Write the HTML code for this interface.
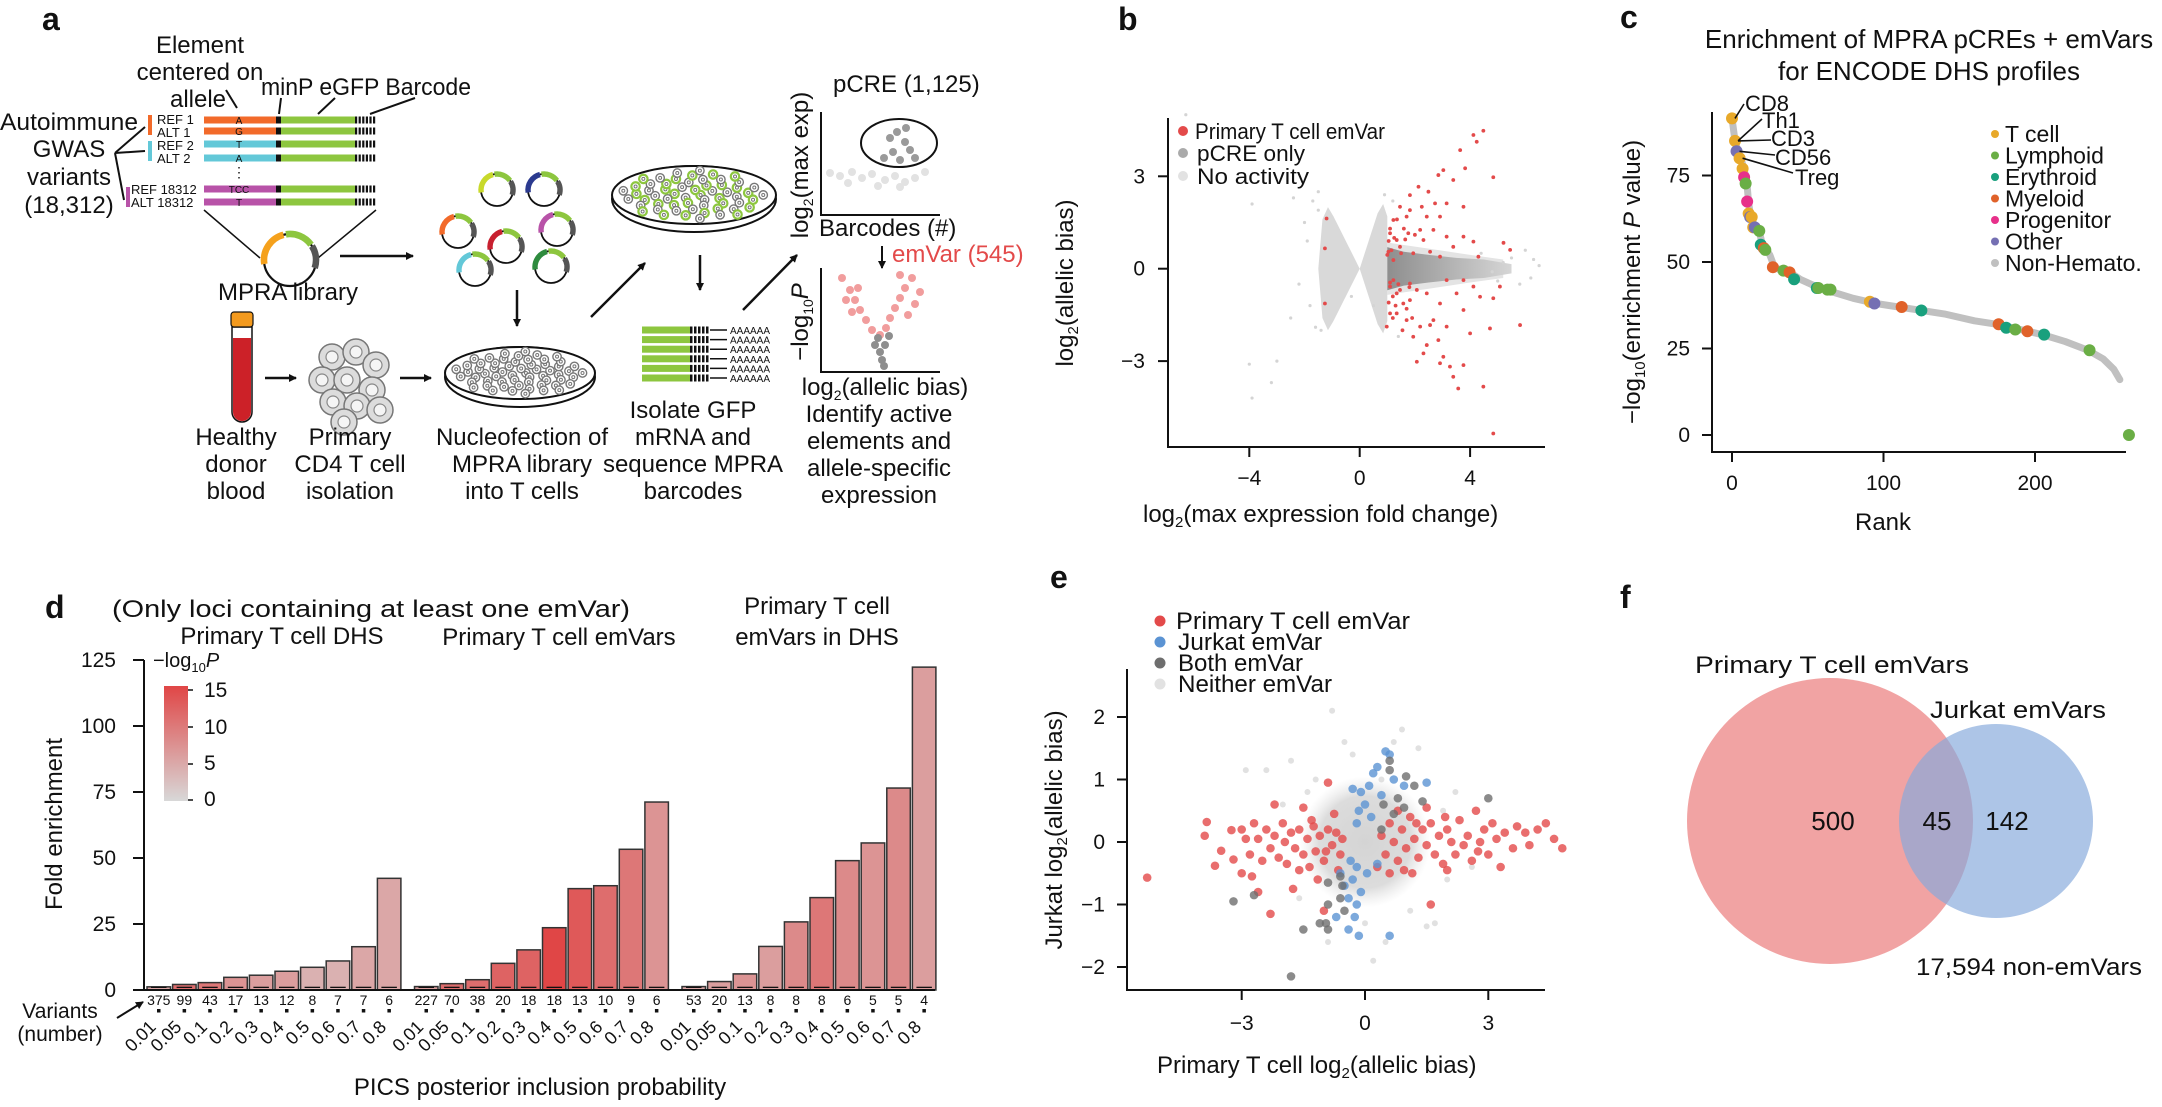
<!DOCTYPE html>
<html><head><meta charset="utf-8"><title>MPRA figure</title>
<style>
html,body{margin:0;padding:0;background:#fff;}
svg{display:block;font-family:"Liberation Sans",sans-serif;}
text{fill:#111;}
.pl{font-weight:bold;font-size:32px;}
.lab{font-size:24px;}
.tick{font-size:21px;}
.sm{font-size:13px;}
</style></head>
<body>
<svg id="fig" xmlns="http://www.w3.org/2000/svg" width="2162" height="1107" viewBox="0 0 2162 1107">
<defs>
<linearGradient id="cbar" x1="0" y1="1" x2="0" y2="0"><stop offset="0" stop-color="#d8d8d8"/><stop offset="1" stop-color="#e04646"/></linearGradient>
<linearGradient id="pcre" x1="0" y1="0" x2="1" y2="0"><stop offset="0" stop-color="#8e8e8e"/><stop offset="1" stop-color="#d6d6d6"/></linearGradient>
<radialGradient id="cloud"><stop offset="0" stop-color="#d4d4d4"/><stop offset="0.7" stop-color="#dcdcdc"/><stop offset="1" stop-color="#e8e8e8" stop-opacity="0"/></radialGradient>
<marker id="ah" markerWidth="8" markerHeight="8" refX="7" refY="4" orient="auto" markerUnits="userSpaceOnUse"><path d="M0,0 L8,4 L0,8 z" fill="#111"/></marker>
</defs>

<!-- ================= PANEL A ================= -->
<g id="panel-a">
<text class="pl" x="42" y="30">a</text>
<g class="lab" text-anchor="middle">
<text x="200" y="53">Element</text><text x="200" y="80">centered on</text><text x="198" y="107">allele</text>
</g>
<text class="lab" x="261" y="95" textLength="210" lengthAdjust="spacingAndGlyphs">minP eGFP Barcode</text>
<g stroke="#111" stroke-width="2" fill="none">
<line x1="226" y1="90" x2="237" y2="108"/><line x1="281" y1="98" x2="279" y2="114"/><line x1="335" y1="98" x2="318" y2="114"/><line x1="415" y1="98" x2="370" y2="114"/>
</g>
<g class="lab" text-anchor="middle">
<text x="69" y="130" textLength="138" lengthAdjust="spacingAndGlyphs">Autoimmune</text><text x="69" y="157">GWAS</text><text x="69" y="185">variants</text><text x="69" y="213">(18,312)</text>
</g>
<g stroke="#111" stroke-width="2" fill="none">
<line x1="115" y1="153" x2="145" y2="127"/><line x1="115" y1="153" x2="145" y2="151"/><line x1="115" y1="153" x2="124" y2="200"/>
</g>
<rect x="148" y="115" width="4" height="20" fill="#f26a2a"/>
<rect x="148" y="141" width="4" height="20" fill="#63c8d8"/>
<rect x="126" y="187" width="4" height="20" fill="#b853a8"/>
<g class="sm">
<text x="157" y="124">REF 1</text><text x="157" y="137">ALT 1</text><text x="157" y="150">REF 2</text><text x="157" y="163">ALT 2</text>
<text x="131" y="194">REF 18312</text><text x="131" y="207">ALT 18312</text>
</g>
<g id="constructs"></g>
<text x="239" y="177" font-size="14" text-anchor="middle">⋮</text>
<g stroke="#111" stroke-width="1.5"><line x1="204" y1="210" x2="260" y2="258"/><line x1="376" y1="210" x2="318" y2="258"/></g>
<g id="bigplasmid"></g>
<text class="lab" x="288" y="300" text-anchor="middle">MPRA library</text>
<line x1="340" y1="256" x2="413" y2="256" stroke="#111" stroke-width="2.5" marker-end="url(#ah)"/>
<g id="smallplasmids"></g>
<line x1="517" y1="290" x2="517" y2="326" stroke="#111" stroke-width="2.5" marker-end="url(#ah)"/>
<g>
<path d="M232,327 L232,412 A10,10 0 0 0 252,412 L252,327 Z" fill="#fff" stroke="#111" stroke-width="1.5"/>
<path d="M233,338 L233,412 A9,9 0 0 0 251,412 L251,338 Z" fill="#cc2128"/>
<rect x="231" y="312" width="22" height="15" rx="3" fill="#f39a1e" stroke="#111" stroke-width="1.2"/>
</g>
<line x1="265" y1="378" x2="296" y2="378" stroke="#111" stroke-width="2.5" marker-end="url(#ah)"/>
<g id="cellcluster"></g>
<line x1="400" y1="378" x2="431" y2="378" stroke="#111" stroke-width="2.5" marker-end="url(#ah)"/>
<g id="dish1"></g>
<line x1="591" y1="317" x2="645" y2="263" stroke="#111" stroke-width="2.5" marker-end="url(#ah)"/>
<g id="dish2"></g>
<line x1="700" y1="255" x2="700" y2="290" stroke="#111" stroke-width="2.5" marker-end="url(#ah)"/>
<g id="mrna"></g>
<line x1="743" y1="310" x2="797" y2="255" stroke="#111" stroke-width="2.5" marker-end="url(#ah)"/>
<g class="lab" text-anchor="middle">
<text x="236" y="445">Healthy</text><text x="236" y="472">donor</text><text x="236" y="499">blood</text>
<text x="350" y="445">Primary</text><text x="350" y="472">CD4 T cell</text><text x="350" y="499">isolation</text>
<text x="522" y="445">Nucleofection of</text><text x="522" y="472">MPRA library</text><text x="522" y="499">into T cells</text>
<text x="693" y="418">Isolate GFP</text><text x="693" y="445">mRNA and</text><text x="693" y="472">sequence MPRA</text><text x="693" y="499">barcodes</text>
<text x="879" y="422">Identify active</text><text x="879" y="449">elements and</text><text x="879" y="476">allele-specific</text><text x="879" y="503">expression</text>
</g>
<g id="insets">
<text class="lab" x="833" y="92">pCRE (1,125)</text>
<path d="M821,112 L821,215 L940,215" fill="none" stroke="#111" stroke-width="2"/>
<path d="M821,268 L821,372 L940,372" fill="none" stroke="#111" stroke-width="2"/>
<text class="lab" transform="translate(808,165) rotate(-90)" text-anchor="middle">log<tspan font-size="14" dy="5">2</tspan><tspan dy="-5">(max exp)</tspan></text>
<text class="lab" x="819" y="236">Barcodes (#)</text>
<line x1="882" y1="246" x2="882" y2="268" stroke="#111" stroke-width="2" marker-end="url(#ah)"/>
<text class="lab" x="892" y="262" style="fill:#e34a4a">emVar (545)</text>
<text class="lab" transform="translate(808,322) rotate(-90)" text-anchor="middle">−log<tspan font-size="14" dy="5">10</tspan><tspan dy="-5" font-style="italic">P</tspan></text>
<text class="lab" x="885" y="395" text-anchor="middle">log<tspan font-size="14" dy="5">2</tspan><tspan dy="-5">(allelic bias)</tspan></text>
</g>
</g>

<!-- ================= PANEL B ================= -->
<g id="panel-b">
<text class="pl" x="1118" y="30">b</text>
<g id="b-marks"></g>
<path d="M1168,118 L1168,447 L1545,447" fill="none" stroke="#111" stroke-width="2"/>
<g id="b-ticks"></g>
<text class="lab" transform="translate(1073,283) rotate(-90)" text-anchor="middle">log<tspan font-size="15" dy="5">2</tspan><tspan dy="-5">(allelic bias)</tspan></text>
<text class="lab" x="1143" y="522">log<tspan font-size="15" dy="5">2</tspan><tspan dy="-5">(max expression fold change)</tspan></text>
<g>
<circle cx="1183" cy="131" r="5" fill="#e34a4a"/><text x="1195" y="139" font-size="22" textLength="190" lengthAdjust="spacingAndGlyphs">Primary T cell emVar</text>
<circle cx="1183" cy="153" r="5" fill="#aaaaaa"/><text x="1197" y="161" font-size="22" textLength="108" lengthAdjust="spacingAndGlyphs">pCRE only</text>
<circle cx="1183" cy="176" r="5" fill="#e2e2e2"/><text x="1197" y="184" font-size="22" textLength="112" lengthAdjust="spacingAndGlyphs">No activity</text>
</g>
</g>

<!-- ================= PANEL C ================= -->
<g id="panel-c">
<text class="pl" x="1620" y="28">c</text>
<text x="1929" y="48" text-anchor="middle" font-size="26">Enrichment of MPRA pCREs + emVars</text>
<text x="1929" y="80" text-anchor="middle" font-size="26">for ENCODE DHS profiles</text>
<g id="c-marks"></g>
<path d="M1712,112 L1712,452 L2126,452" fill="none" stroke="#111" stroke-width="2"/>
<g id="c-ticks"></g>
<text class="lab" transform="translate(1640,282) rotate(-90)" text-anchor="middle">−log<tspan font-size="15" dy="5">10</tspan><tspan dy="-5">(enrichment </tspan><tspan font-style="italic">P</tspan><tspan> value)</tspan></text>
<text class="lab" x="1883" y="530" text-anchor="middle">Rank</text>
<g id="c-legend"></g>
</g>

<!-- ================= PANEL D ================= -->
<g id="panel-d">
<text class="pl" x="45" y="618">d</text>
<text class="lab" x="112" y="617" textLength="518" lengthAdjust="spacingAndGlyphs">(Only loci containing at least one emVar)</text>
<text class="lab" x="282" y="644" text-anchor="middle">Primary T cell DHS</text>
<text class="lab" x="559" y="645" text-anchor="middle">Primary T cell emVars</text>
<text class="lab" x="817" y="614" text-anchor="middle">Primary T cell</text>
<text class="lab" x="817" y="645" text-anchor="middle">emVars in DHS</text>
<g id="d-marks"></g>
<path d="M144,660 L144,990 L935,990" fill="none" stroke="#111" stroke-width="2"/>
<g id="d-ticks"></g>
<text class="lab" transform="translate(62,824) rotate(-90)" text-anchor="middle">Fold enrichment</text>
<text class="lab" x="540" y="1095" text-anchor="middle">PICS posterior inclusion probability</text>
<text x="60" y="1018" text-anchor="middle" font-size="21">Variants</text>
<text x="60" y="1041" text-anchor="middle" font-size="21">(number)</text>
<line x1="117" y1="1018" x2="143" y2="1002" stroke="#111" stroke-width="2" marker-end="url(#ah)"/>
<g>
<text x="153" y="667" font-size="20">−log<tspan font-size="13" dy="5">10</tspan><tspan dy="-5" font-style="italic">P</tspan></text>
<rect x="164" y="686" width="24" height="115" fill="url(#cbar)"/>
<g stroke="#111" stroke-width="1.5"><line x1="188" y1="690" x2="193" y2="690"/><line x1="188" y1="727" x2="193" y2="727"/><line x1="188" y1="764" x2="193" y2="764"/><line x1="188" y1="800" x2="193" y2="800"/></g>
<g font-size="21"><text x="204" y="697">15</text><text x="204" y="734">10</text><text x="204" y="770">5</text><text x="204" y="806">0</text></g>
</g>
</g>

<!-- ================= PANEL E ================= -->
<g id="panel-e">
<text class="pl" x="1050" y="588">e</text>
<g id="e-marks"></g>
<path d="M1127,669 L1127,990 L1545,990" fill="none" stroke="#111" stroke-width="2"/>
<g id="e-ticks"></g>
<text class="lab" transform="translate(1062,830) rotate(-90)" text-anchor="middle">Jurkat log<tspan font-size="15" dy="5">2</tspan><tspan dy="-5">(allelic bias)</tspan></text>
<text class="lab" x="1157" y="1073">Primary T cell log<tspan font-size="15" dy="5">2</tspan><tspan dy="-5">(allelic bias)</tspan></text>
<g>
<circle cx="1160" cy="621" r="5.5" fill="#e34a4a"/><text class="lab" x="1176" y="629" textLength="234" lengthAdjust="spacingAndGlyphs">Primary T cell emVar</text>
<circle cx="1160" cy="642" r="5.5" fill="#5b93d3"/><text class="lab" x="1178" y="650" textLength="144" lengthAdjust="spacingAndGlyphs">Jurkat emVar</text>
<circle cx="1160" cy="663" r="5.5" fill="#6e6e6e"/><text class="lab" x="1178" y="671" textLength="125" lengthAdjust="spacingAndGlyphs">Both emVar</text>
<circle cx="1160" cy="684" r="5.5" fill="#e2e2e2"/><text class="lab" x="1178" y="692" textLength="154" lengthAdjust="spacingAndGlyphs">Neither emVar</text>
</g>
</g>

<!-- ================= PANEL F ================= -->
<g id="panel-f">
<text class="pl" x="1620" y="608">f</text>
<g id="f-marks"></g>
<text class="lab" x="1695" y="673" textLength="274" lengthAdjust="spacingAndGlyphs">Primary T cell emVars</text>
<text class="lab" x="1930" y="718" textLength="176" lengthAdjust="spacingAndGlyphs">Jurkat emVars</text>
<text class="lab" x="1916" y="975" textLength="226" lengthAdjust="spacingAndGlyphs">17,594 non-emVars</text>
</g>
</svg>

<script>
// ---------------- DATA ----------------
// Panel d
const dCategories = ['0.01','0.05','0.1','0.2','0.3','0.4','0.5','0.6','0.7','0.8'];
const dGroupNames = ['Primary T cell DHS','Primary T cell emVars','Primary T cell emVars in DHS'];
const dFoldDHS = [1.2,2.1,2.8,4.8,5.6,7.1,8.6,11,16.4,42.3];
const dFoldEmVars = [1.3,2.4,3.9,10.1,15.2,23.6,38.4,39.5,53.3,71.2];
const dFoldEmVarsDHS = [1.3,3.2,6.1,16.5,25.8,35,49,55.7,76.5,122.3];
const dLogPDHS = [5,11,10,7,6,6,4,4,5,5];
const dLogPEmVars = [6,11,11,12,12,15,13,11,10,7];
const dLogPEmVarsDHS = [5,6,7,6,8,10,8,7,8,6];
const dCountsDHS = [375,99,43,17,13,12,8,7,7,6];
const dCountsEmVars = [227,70,38,20,18,18,13,10,9,6];
const dCountsEmVarsDHS = [53,20,13,8,8,8,6,5,5,4];
const dYTicks = [0,25,50,75,100,125];

// Panel c
const cCurveRank = [0,2,4,6,8,9,10,11,12,13,15,18,20,22,25,28,35,40,45,55,65,80,95,110,125,140,160,175,190,205,220,235,245,252,256];
const cCurveValue = [91.5,85,82,80,76.5,75,72,67,64,63,60,59,55,54,52,48.5,47,46.5,45,43,41.5,39.5,38,37,36,35,33,32,30.5,29,27,24.5,22,19,16];
const cDotRank = [0,2,3,5,7,8,9,10,11,12,13,14,15,18,19,21,22,27,34,38,41,56,57,63,65,91,94,112,125,176,181,187,195,206,236,262];
const cDotValue = [91.5,85,82,80,77,74.5,72.7,67.5,64,63,63,60,60,59,55,54,53.5,48.5,47.5,47,45,42.5,42.5,42,42,38.5,38,37,36,32,31,30.5,30,29,24.5,0];
const cDotType = ['T','T','O','T','T','P','L','P','T','O','T','T','O','L','E','M','L','M','L','M','E','E','L','L','L','T','O','M','E','M','E','L','M','E','L','L'];
const cLegendNames = ['T cell','Lymphoid','Erythroid','Myeloid','Progenitor','Other','Non-Hemato.'];
const cYTicks = [0,25,50,75];
const cXTicks = [0,100,200];

// Panel b
const bRedX = [4.12,4.24,4.48,3.64,3.82,4.84,3.03,2.85,3.39,2.13,2.49,2.73,3.76,1.82,1.46,1.22,1.70,2.25,2.91,3.15,3.76,5.21,5.45,1.10,1.34,1.94,2.55,2.91,4.12,1.22,1.04,1.46,1.76,2.19,2.31,2.67,2.43,1.82,3.15,3.39,4.3,1.10,1.46,1.82,2.43,2.91,3.51,4.12,5.08,1.10,1.70,2.19,2.55,3.15,3.76,4.84,5.81,4.72,1.94,2.43,2.85,2.31,2.07,2.91,3.27,3.76,3.03,3.39,3.57,4.48,4.84,-1.26,-1.2,-1.26,0.98,1.34,1.58,1.82,2.07,3.15,3.76,4.36,2.67,4.0,1.22,1.34,1.05,1.1,1.15,1.2,1.05,1.3,1.25,1.4,1.5,1.6,1.1,1.0,1.35,1.2,1.55,1.7,1.9,1.65,1.8,2.0];
const bRedY = [4.34,4.12,4.48,3.85,3.26,2.97,3.2,3.04,2.88,2.66,2.5,2.12,2.01,2.39,2.01,1.58,1.69,2.01,1.69,1.04,1.04,0.84,0.61,1.15,0.93,0.5,0.55,0.39,0.88,0.28,0.55,0.71,1.15,1.26,0.93,1.26,1.69,1.9,2.12,0.71,0.39,-0.58,-0.69,-1.02,-0.8,-1.13,-0.8,-0.58,-0.58,-1.45,-1.67,-1.88,-1.83,-1.88,-1.34,-0.96,-1.83,-1.94,-2.21,-2.48,-2.32,-2.75,-3.02,-3.07,-3.18,-3.13,-2.86,-3.51,-3.89,-3.83,-5.35,-1.13,1.63,0.66,-1.88,-1.45,-1.13,-0.48,-0.69,-0.37,-0.37,-0.91,-1.67,-2.1,-0.37,-0.8,0.9,1.3,0.6,-0.9,-1.1,-1.2,1.0,-0.5,0.5,1.3,-0.45,0.45,1.6,-1.6,-2.0,-1.3,-1.6,0.95,-0.6,1.1];
const bGreyX = [-6.3,-3.9,-2.4,-3.0,-4.0,-3.2,-3.9,-1.8,-2.5,-2.0,-1.6,-1.9,-2.2,-1.5,-1.7,4.8,5.5,6.2,6.5,-1.4,-1.5,1.2,1.4,0.9,-0.3,0.5,6.0,5.0,5.8,6.3,4.4,5.2];
const bGreyY = [5.0,2.1,2.3,-3.0,-3.1,-3.7,-4.2,-1.2,-1.6,1.5,-1.9,0.9,-0.5,2.5,2.2,-0.1,0.35,-0.3,0.1,-2.0,1.9,2.2,-2.2,2.4,-0.9,-1.2,0.6,-0.4,-0.5,0.3,0.5,0.2];
const bNoActLeftX = [-1.35,-1.15,-0.95,0,-0.95,-1.15,-1.35,-1.5];
const bNoActLeftY = [1.6,2.0,1.7,0,-1.7,-2.0,-1.6,0];
const bNoActRightX = [0,0.65,0.85,1.0,1.0,0.85,0.65];
const bNoActRightY = [0,1.8,2.1,1.7,-1.7,-2.1,-1.8];
const bPcreX = [1,1.6,2.5,3.5,4.5,5.5,5.5,4.5,3.5,2.5,1.6,1];
const bPcreY = [0.7,0.55,0.45,0.35,0.3,0.15,-0.15,-0.3,-0.35,-0.45,-0.55,-0.7];
const bHaloX = [1,2.5,4,5.2,5.2,4,2.5,1];
const bHaloY = [0.85,0.65,0.45,0.3,-0.3,-0.45,-0.65,-0.85];
const bYTicks = [-3,0,3];
const bXTicks = [-4,0,4];

// Panel e
const eRedX = [-5.3,-3.85,-3.9,-3.65,-3.5,-3.25,-3.2,-3.0,-2.9,-2.8,-2.7,-2.6,-2.5,-2.4,-2.3,-2.2,-2.1,-2.0,-1.95,-1.9,-1.8,-1.7,-1.6,-1.5,-1.4,-1.3,-1.2,-1.1,-1.0,-0.9,-0.8,-0.7,-0.6,-0.55,-2.2,-1.5,-0.9,-1.15,-1.75,-2.3,-2.6,-1.0,-3.0,-2.75,-1.35,-0.75,-1.25,-0.95,-0.65,-1.6,
0.4,0.5,0.6,0.7,0.8,0.9,1.0,1.1,1.2,1.3,1.4,1.5,1.6,1.7,1.8,1.9,2.0,2.1,2.2,2.3,2.4,2.5,2.6,2.8,2.9,3.0,3.2,3.4,3.6,3.7,3.9,4.0,4.4,4.6,4.8,4.2,3.3,2.7,1.5,0.8,1.15,2.0,0.6,1.6,0.3,3.1,1.95,2.75,1.25,0.95];
const eRedY = [-0.57,0.32,0.1,-0.38,-0.14,0.19,-0.28,-0.5,0.05,-0.2,0.3,0.05,-0.3,0.2,-0.1,0.1,-0.25,0.3,0.0,-0.35,0.15,-0.1,0.2,-0.2,0.05,0.35,-0.15,0.1,-0.3,0.2,-0.05,0.15,-0.2,0.05,0.6,0.55,0.95,-0.6,-0.75,-1.15,-0.8,-1.1,0.2,-0.55,-0.4,0.45,0.25,-0.15,-0.45,-0.45,
0.1,-0.2,0.3,0.0,-0.3,0.2,-0.1,0.4,0.05,-0.25,0.2,-0.05,0.3,-0.2,0.1,-0.35,0.2,0.0,-0.2,0.35,-0.05,0.1,-0.3,0.0,0.2,-0.2,0.05,0.15,-0.1,0.25,0.15,-0.05,0.3,0.05,-0.1,0.2,-0.4,0.5,0.55,0.5,-0.5,-0.45,-0.5,-1.0,-0.4,0.3,0.4,-0.15,0.3,-0.45];
const eBlueX = [-0.15,-0.1,0.0,0.1,0.2,0.3,0.5,0.6,0.4,0.15,-0.2,-0.3,0.7,0.95,1.5,-0.2,-0.3,-0.1,-0.4,-0.5,-0.2,-0.25,-0.7,-0.4,-0.15,0.6,-0.6,0.05,-0.35,0.3];
const eBlueY = [0.5,0.8,0.6,0.9,1.1,1.2,1.45,1.4,0.75,0.4,0.3,0.85,1.0,0.9,0.95,-0.4,-0.6,-0.8,-0.9,-0.7,-1.0,-1.2,-1.2,-1.4,-1.5,-1.5,-0.5,-0.5,-0.3,-0.35];
const eBothX = [0.6,0.6,1.0,1.2,0.8,0.7,0.95,0.45,1.4,3.0,-0.9,-0.55,-0.6,-0.9,-0.95,-0.9,-0.5,-3.2,-2.7,-1.5,-1.8,-1.1,0.4,-0.6];
const eBothY = [1.3,1.15,1.05,0.9,0.7,0.45,0.55,0.6,0.65,0.7,-0.65,-0.7,-0.9,-1.0,-1.3,-1.4,-1.1,-0.95,-0.85,-1.4,-2.15,-1.3,0.2,-0.55];
const eGreyX = [-0.8,0.9,-1.8,-2.9,-2.4,1.3,2.2,-1.2,1.7,0.5,-0.5,1.1,-1.6,2.0,-0.3,0.2,0.7,-2.0,1.5,2.6,-1.4,0.0,-0.9,1.9,0.4];
const eGreyY = [2.1,1.8,1.3,1.15,1.15,1.5,0.8,1.0,-1.3,-1.6,1.6,-1.1,-0.9,-0.6,1.4,-1.9,1.6,0.6,-1.35,-0.4,0.8,-1.3,-1.6,0.5,1.0];
const eCloudX = [0], eCloudY = [0], eCloudRX = [1.6], eCloudRY = [1.05];
const eXTicks = [-3,0,3];
const eYTicks = [-2,-1,0,1,2];

// Panel f
const fPrimaryOnly = 500, fOverlap = 45, fJurkatOnly = 142;

// ---------------- HELPERS ----------------
const NS = 'http://www.w3.org/2000/svg';
function mk(parent, tag, attrs, txt) {
  const el = document.createElementNS(NS, tag);
  for (const k in attrs) el.setAttribute(k, attrs[k]);
  if (txt !== undefined) el.textContent = txt;
  parent.appendChild(el);
  return el;
}
const $ = id => document.getElementById(id);
function lerpColor(t) {
  const a=[216,216,216], b=[224,70,70];
  const c=a.map((v,i)=>Math.round(v+(b[i]-v)*Math.max(0,Math.min(1,t))));
  return 'rgb('+c.join(',')+')';
}

// ---------------- PANEL A decorations ----------------
(function(){
  const g = $('constructs');
  const rows = [[120,'#f26a2a','A'],[131,'#f26a2a','G'],[144,'#63c8d8','T'],[158,'#63c8d8','A'],[189,'#b853a8','TCC'],[202,'#b853a8','T']];
  rows.forEach(r=>{
    const row = mk(g,'g',{});
    
    
    mk(row,'rect',{x:204,y:r[0]-3.5,width:72,height:7,fill:r[1]});
    mk(row,'rect',{x:276,y:r[0]-3.5,width:5,height:7,fill:'#111'});
    mk(row,'rect',{x:281,y:r[0]-3.5,width:74,height:7,fill:'#8dc63f'});
    for(let k=0;k<6;k++) mk(row,'rect',{x:355+k*3.6,y:r[0]-3.5,width:2.2,height:7,fill:'#111'});
    mk(row,'text',{x:239,y:r[0]+4,'font-size':10,'text-anchor':'middle'},r[2]);
  });
  function plasmid(parent,cx,cy,r,col,w){
    mk(parent,'circle',{cx:cx,cy:cy,r:r,fill:'none',stroke:'#111','stroke-width':w});
    const arc=(a0,a1,c,sw)=>{const p0=[cx+r*Math.cos(a0),cy+r*Math.sin(a0)],p1=[cx+r*Math.cos(a1),cy+r*Math.sin(a1)];
      mk(parent,'path',{d:`M${p0[0]},${p0[1]} A${r},${r} 0 0 1 ${p1[0]},${p1[1]}`,fill:'none',stroke:c,'stroke-width':sw});};
    arc(Math.PI*0.95,Math.PI*1.42,col,w*3);
    arc(Math.PI*1.45,Math.PI*1.8,'#8dc63f',w*3);
    arc(Math.PI*1.82,Math.PI*2.1,'#555',w*3);
  }
  plasmid($('bigplasmid'),290,260,26,'#f5a11c',2.2);
  const sp=[[497,190,'#c8d92b'],[544,190,'#2b3a8f'],[458,232,'#f26a2a'],[506,247,'#c8202f'],[557,230,'#b853a8'],[475,270,'#63c8d8'],[551,267,'#2e8b3e']];
  sp.forEach(p=>plasmid($('smallplasmids'),p[0],p[1],16,p[2],1.8));
  const cc=$('cellcluster');
  [[332,357],[356,352],[376,365],[322,380],[347,380],[372,390],[333,402],[357,406],[380,410],[344,422]].forEach(c=>{
    mk(cc,'circle',{cx:c[0],cy:c[1],r:13,fill:'#dcdcdc',stroke:'#777','stroke-width':1.5});
    mk(cc,'circle',{cx:c[0],cy:c[1],r:6,fill:'#f5f5f5',stroke:'#888','stroke-width':1.2});
  });
  function dish(parent,cx,cy,rx,ry,green){
    mk(parent,'ellipse',{cx:cx,cy:cy+4,rx:rx,ry:ry,fill:'#fff',stroke:'#111','stroke-width':2});
    mk(parent,'ellipse',{cx:cx,cy:cy,rx:rx,ry:ry-4,fill:'#fff',stroke:'#111','stroke-width':2});
    for(let i=0;i<60;i++){
      const a=i*2.399, rr=Math.sqrt((i+0.5)/60);
      const x=cx+Math.cos(a)*rr*(rx-10), y=cy+Math.sin(a)*rr*(ry-8);
      const isG = green && i%2===0;
      mk(parent,'circle',{cx:x,cy:y,r:4.2,fill:'#fff',stroke:isG?'#8dc63f':'#777','stroke-width':isG?2.2:1.4});
      mk(parent,'circle',{cx:x,cy:y,r:1.5,fill:'none',stroke:'#777','stroke-width':1});
    }
  }
  dish($('dish1'),520,373,75,30,false);
  dish($('dish2'),694,195,82,33,true);
  const m=$('mrna');
  for(let i=0;i<6;i++){
    const y=330+i*9.6;
    mk(m,'rect',{x:642,y:y-3.5,width:48,height:7,fill:'#8dc63f'});
    for(let k=0;k<5;k++) mk(m,'rect',{x:690+k*4,y:y-3.5,width:2.5,height:7,fill:'#111'});
    mk(m,'line',{x1:710,y1:y,x2:727,y2:y,stroke:'#111','stroke-width':1.5});
    mk(m,'text',{x:730,y:y+4,'font-size':10},'AAAAAA');
  }
  const ins=$('insets');
  mk(ins,'ellipse',{cx:899,cy:143,rx:38,ry:24,fill:'none',stroke:'#111','stroke-width':2});
  [[830,173],[840,176],[852,172],[862,178],[872,174],[885,180],[895,176],[905,182],[915,178],[925,172],[848,183],[878,186],[900,187]].forEach(p=>mk(ins,'circle',{cx:p[0],cy:p[1],r:4,fill:'#e2e2e2'}));
  [[890,138],[897,132],[905,142],[910,150],[893,152],[900,160],[915,158],[884,158],[906,128]].forEach(p=>mk(ins,'circle',{cx:p[0],cy:p[1],r:4,fill:'#9a9a9a'}));
  [[842,278],[850,290],[855,300],[860,310],[866,320],[872,330],[880,335],[912,278],[905,288],[900,298],[895,308],[890,318],[886,328],[920,292],[846,300],[858,288],[915,304],[900,275],[852,312],[908,315]].forEach(p=>mk(ins,'circle',{cx:p[0],cy:p[1],r:4,fill:'#ef8c8c',opacity:0.85}));
  [[875,345],[880,352],[885,345],[882,360],[878,338],[889,336],[884,366]].forEach(p=>mk(ins,'circle',{cx:p[0],cy:p[1],r:4,fill:'#8e8e8e'}));
})();

// ---------------- PANEL B ----------------
const xB = v => 1359.7 + v*27.6;
const yB = v => 268.7 - v*30.8;
(function(){
  const g=$('b-marks');
  const poly=(xs,ys,fill,name)=>{
    const p=mk(g,'polygon',{points:xs.map((x,i)=>xB(x)+','+yB(ys[i])).join(' '),fill:fill});
    
    
  };
  poly(bHaloX,bHaloY,'#e4e4e4','pcre-halo');
  poly(bNoActLeftX,bNoActLeftY,'#d9d9d9','no-activity-cloud-left');
  poly(bNoActRightX,bNoActRightY,'#d9d9d9','no-activity-cloud-right');
  poly(bPcreX,bPcreY,'url(#pcre)','pcre-only-band');
  bGreyX.forEach((x,i)=>{
    const c=mk(g,'circle',{cx:xB(x),cy:yB(bGreyY[i]),r:1.6,fill:'#d4d4d4'});
    
    
  });
  bRedX.forEach((x,i)=>{
    const c=mk(g,'circle',{cx:xB(x),cy:yB(bRedY[i]),r:1.9,fill:'#e34a4a'});
    
    
  });
  const t=$('b-ticks');
  bYTicks.forEach(v=>{
    mk(t,'line',{x1:1158,y1:yB(v),x2:1168,y2:yB(v),stroke:'#111','stroke-width':2});
    const tx=mk(t,'text',{x:1145,y:yB(v)+7,'text-anchor':'end',class:'tick'},v<0?'−'+Math.abs(v):String(v));
    
    
  });
  bXTicks.forEach(v=>{
    mk(t,'line',{x1:xB(v),y1:447,x2:xB(v),y2:457,stroke:'#111','stroke-width':2});
    const tx=mk(t,'text',{x:xB(v),y:485,'text-anchor':'middle',class:'tick'},v<0?'−'+Math.abs(v):String(v));
    
    
  });
})();

// ---------------- PANEL C ----------------
const xC = v => 1732 + v*1.515;
const yC = v => 435 - v*3.46;
const cColors = {T:'#e8a92a',L:'#6aae45',E:'#19a07d',M:'#e0622a',P:'#e7308a',O:'#7570b3',N:'#c0c0c0'};
(function(){
  const g=$('c-marks');
  const line=mk(g,'polyline',{points:cCurveRank.map((r,i)=>xC(r)+','+yC(cCurveValue[i])).join(' '),fill:'none',stroke:'#c0c0c0','stroke-width':7,'stroke-linecap':'round','stroke-linejoin':'round'});
  
  
  cDotRank.forEach((r,i)=>{
    const c=mk(g,'circle',{cx:xC(r),cy:yC(cDotValue[i]),r:6,fill:cColors[cDotType[i]]});
    
    
  });
  const ann=[['CD8',0,91.5,1745,111,1744,104],['Th1',2,85,1762,128,1762,119],['CD3',2,85,1771,146,1771,140],['CD56',3,82,1775,165,1775,155],['Treg',5,80,1795,185,1793,173]];
  ann.forEach(a=>{
    const l=mk(g,'line',{x1:xC(a[1])+3,y1:yC(a[2]),x2:a[5],y2:a[6],stroke:'#111','stroke-width':1.6});
    
    
    const tx=mk(g,'text',{x:a[3],y:a[4],'font-size':22},a[0]);
    
    
  });
  const t=$('c-ticks');
  cYTicks.forEach(v=>{
    mk(t,'line',{x1:1702,y1:yC(v),x2:1712,y2:yC(v),stroke:'#111','stroke-width':2});
    const tx=mk(t,'text',{x:1690,y:yC(v)+7,'text-anchor':'end',class:'tick'},String(v));
    
    
  });
  cXTicks.forEach(v=>{
    mk(t,'line',{x1:xC(v),y1:452,x2:xC(v),y2:462,stroke:'#111','stroke-width':2});
    const tx=mk(t,'text',{x:xC(v),y:490,'text-anchor':'middle',class:'tick'},String(v));
    
    
  });
  const lg=$('c-legend');
  const keys=['T','L','E','M','P','O','N'];
  cLegendNames.forEach((n,i)=>{
    const y=134+i*21.5;
    mk(lg,'circle',{cx:1995,cy:y,r:4,fill:cColors[keys[i]]});
    const tx=mk(lg,'text',{x:2005,y:y+8,'font-size':23},n);
    
    
  });
})();

// ---------------- PANEL D ----------------
const yD = v => 990 - v*2.64;
const xD = (g,i) => 147 + g*267.5 + i*25.6;
(function(){
  const g=$('d-marks');
  const folds=[dFoldDHS,dFoldEmVars,dFoldEmVarsDHS];
  const ps=[dLogPDHS,dLogPEmVars,dLogPEmVarsDHS];
  const counts=[dCountsDHS,dCountsEmVars,dCountsEmVarsDHS];
  folds.forEach((arr,gi)=>{
    arr.forEach((v,i)=>{
      const x=xD(gi,i);
      const b=mk(g,'rect',{x:x,y:yD(v),width:23.5,height:990-yD(v),fill:lerpColor(ps[gi][i]/15),stroke:'#333','stroke-width':1.5});
      
      
      mk(g,'line',{x1:x+4,y1:yD(1),x2:x+19.5,y2:yD(1),stroke:'#111','stroke-width':1.3});
      const c=mk(g,'text',{x:x+11.75,y:1005,'text-anchor':'middle','font-size':14},String(counts[gi][i]));
      
      
      mk(g,'rect',{x:x+10,y:1009,width:3.5,height:3.5,fill:'#111'});
      const lx=x+10, ly=1028;
      const tl=mk(g,'text',{x:lx,y:ly,'text-anchor':'end','font-size':18,transform:`rotate(-45 ${lx} ${ly})`},dCategories[i]);
      
      
    });
  });
  const t=$('d-ticks');
  dYTicks.forEach(v=>{
    mk(t,'line',{x1:133,y1:yD(v),x2:144,y2:yD(v),stroke:'#111','stroke-width':2});
    const tx=mk(t,'text',{x:116,y:yD(v)+7,'text-anchor':'end',class:'tick'},String(v));
    
    
  });
})();

// ---------------- PANEL E ----------------
const xE = v => 1365 + v*41.1;
const yE = v => 842 - v*62.5;
(function(){
  const g=$('e-marks');
  eCloudX.forEach((x,i)=>{
    const e=mk(g,'ellipse',{cx:xE(x),cy:yE(eCloudY[i]),rx:eCloudRX[i]*41.1,ry:eCloudRY[i]*62.5,fill:'url(#cloud)'});
    
    
  });
  const pts=(xs,ys,col,r,name)=>xs.forEach((x,i)=>{
    const c=mk(g,'circle',{cx:xE(x),cy:yE(ys[i]),r:r,fill:col,opacity:0.8});
    
    
  });
  pts(eGreyX,eGreyY,'#dadada',3,'neither-emvar-point');
  pts(eRedX,eRedY,'#e34a4a',4.3,'primary-emvar-point');
  pts(eBlueX,eBlueY,'#5b93d3',4.3,'jurkat-emvar-point');
  pts(eBothX,eBothY,'#6e6e6e',4.3,'both-emvar-point');
  const t=$('e-ticks');
  eYTicks.forEach(v=>{
    mk(t,'line',{x1:1117,y1:yE(v),x2:1127,y2:yE(v),stroke:'#111','stroke-width':2});
    const tx=mk(t,'text',{x:1105,y:yE(v)+7,'text-anchor':'end',class:'tick'},v<0?'−'+Math.abs(v):String(v));
    
    
  });
  eXTicks.forEach(v=>{
    mk(t,'line',{x1:xE(v),y1:990,x2:xE(v),y2:1000,stroke:'#111','stroke-width':2});
    const tx=mk(t,'text',{x:xE(v),y:1030,'text-anchor':'middle',class:'tick'},v<0?'−'+Math.abs(v):String(v));
    
    
  });
})();

// ---------------- PANEL F ----------------
(function(){
  const g=$('f-marks');
  const a=mk(g,'circle',{cx:1830,cy:821,r:143,fill:'#ea7878',opacity:0.68});
  
  
  const b=mk(g,'circle',{cx:1996,cy:821,r:97,fill:'#86aadc',opacity:0.68});
  
  
  const t1=mk(g,'text',{x:1833,y:830,'text-anchor':'middle','font-size':26},String(fPrimaryOnly));
  
  
  const t2=mk(g,'text',{x:1937,y:830,'text-anchor':'middle','font-size':26},String(fOverlap));
  
  
  const t3=mk(g,'text',{x:2007,y:830,'text-anchor':'middle','font-size':26},String(fJurkatOnly));
  
  
})();
</script>
</body></html>
